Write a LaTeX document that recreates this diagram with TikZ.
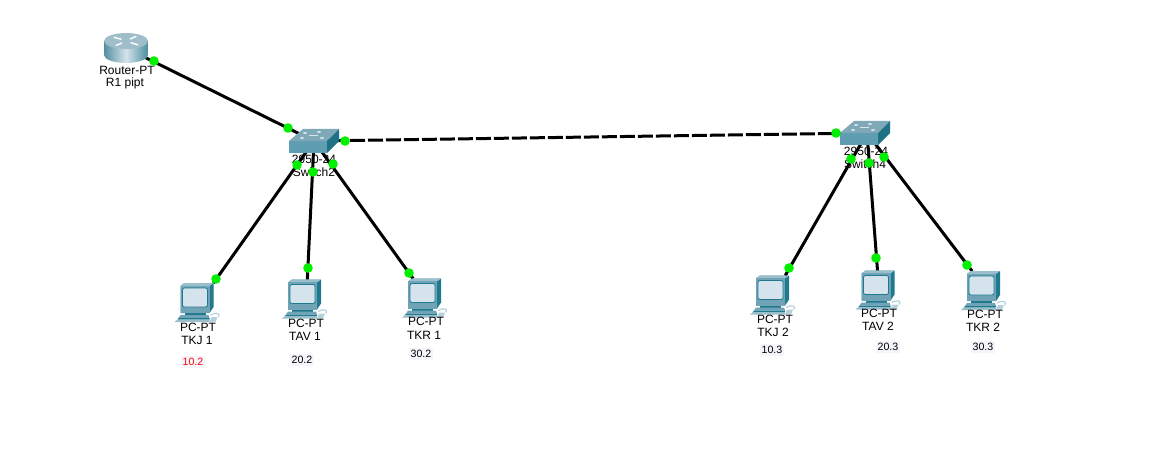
\documentclass[tikz,border=0pt]{standalone}
\usepackage{fontspec}
\setmainfont{Liberation Sans}
\definecolor{pcfront}{HTML}{6FA3B5}
\definecolor{pcside}{HTML}{1F7A90}
\definecolor{pcscreen}{HTML}{D5E4EC}
\definecolor{swfront}{HTML}{5F9DB3}
\definecolor{swtop}{HTML}{7FA9B8}
\definecolor{swside}{HTML}{1F7185}
\definecolor{linkgreen}{HTML}{00F000}
\definecolor{notebg}{HTML}{F5F5FC}
\tikzset{
	devbox/.style={minimum width=16.5pt, minimum height=18.5pt, inner sep=0pt},
	link/.style={line width=1.5pt, black},
	trunk/.style={link, dash pattern=on 7.5pt off 1.5pt},
	linkdot/.style={circle, fill=linkgreen, minimum size=4.8pt, inner sep=0pt},
	devtext/.style={font=\fontsize{6}{7}\selectfont, inner sep=0pt},
	iptext/.style={font=\fontsize{5.3}{6}\selectfont, inner sep=1pt, fill=notebg},
	pcicon/.pic={
		\fill[pcside](-16,-16)--(-12,-19)--(17,-19)--(17,5)--(13,11)--(-16,11)--cycle;
		\fill[pcfront](-16,-16)--(13,-16)--(13,11)--(-16,11)--cycle;
		\fill[pcfront!70!white](-16,-16)--(-12,-19)--(17,-19)--(13,-16)--cycle;
		\fill[pcscreen,draw=pcside,line width=.4pt,rounded corners=1pt](-14,-14)rectangle(11,5);
		\fill[pcside](-12,11)rectangle(9,13);
		\fill[pcfront](-16,13)--(12,13)--(13,16)--(-18,16)--cycle;
		\fill[pcside](-18,16)--(13,16)--(13,17.5)--(-19,17.5)--cycle;
		\fill[pcfront!70!white](-19,17.5)--(13,17.5)--(13,20)--(-22,20)--cycle;
		\draw[pcscreen!70!pcfront,line width=.6pt](14,13)..controls(20,10)and(24,11)..(22,15);
		\fill[pcfront!50!white](15,15)--(21,15)--(19,20)--(13,20)--cycle;
	},
	swicon/.pic={
		\fill[swfront](-25,0)rectangle(13,12);
		\fill[swtop](-25,0)--(-11,-12)--(25,-12)--(13,0)--cycle;
		\fill[swside](13,0)--(25,-12)--(25,0)--(13,12)--cycle;
		\foreach \p/\q in {-12/-3,-9/-8,5/-9,8/-3}\fill[white](\p,\q)ellipse(2 and .7);
		\draw[white!70!swtop,line width=.3pt](-5,-6)--(4,-6);
	},
	routericon/.pic={
		\shade[left color=swfront!90!black,right color=swside!80!white,middle color=pcscreen]
			(-22,-7)--(-22,7)arc(180:0:22 and 8)--(22,-7)--cycle;
		\fill[swtop!75!white](0,-7)ellipse(22 and 8);
		\foreach \r in {40,130,220,310}\draw[white,line width=.7pt](0,-7)++(\r:6 and 2.5)--++(\r:10 and 3.5);
	},
}
\begin{document}
\begin{tikzpicture}[x=.5pt,y=-.5pt,line join=round]
	\useasboundingbox(0,0)rectangle(1166,454);
	\foreach \n/\x/\y in {r1/126/48,sw2/314/141,sw4/867/133,tkja/196.5/302,tava/304/298.5,tkra/424/297.5,tkjb/772/294.5,tavb/877.5/289.5,tkrb/983/290}\node[devbox](\n)at(\x,\y){};
	\draw[link](r1.center)--(sw2.center);
	\draw[trunk](sw2.center)--(sw4.center);
	\draw[link](sw2.center)--(tkja.north east);
	\draw[link](sw2.center)--(tava.80);
	\draw[link](sw2.center)--(tkra.120);
	\draw[link](sw4.center)--(tkjb.55);
	\draw[link](sw4.center)--(tavb.north);
	\draw[link](sw4.center)--(tkrb.120);
	\pic at(r1){routericon};
	\pic at(sw2){swicon};
	\pic at([xshift=-1pt]sw4){swicon};
	\foreach \n in {tkja,tava,tkra,tkjb,tavb,tkrb}\pic at(\n){pcicon};
	\foreach \x/\y/\t in {127/70/Router-PT,125/83/R1 pipt,314/159/2950-24,314/172/Switch2,866/151/2950-24,865/164/Switch4,
		198/327/PC-PT,197/340/TKJ 1,306/323/PC-PT,305/336/TAV 1,426/321/PC-PT,424/335/TKR 1,
		775/319/PC-PT,773/332/TKJ 2,879/313/PC-PT,878/326/TAV 2,985/314/PC-PT,983/327/TKR 2}
		\node[devtext](lab\x)at(\x,\y){\t};
	\node[iptext,text=red](ipa)at(193,362){10.2};
	\foreach \x/\y/\t in {302/360/20.2,421/354/30.2,772/350/10.3,888/347/20.3,983/347/30.3}
		\node[iptext](ip\x)at(\x,\y){\t};
	\foreach \x/\y in {154/61,288/128,345/141,297/165,313/172,333/164,216/279,308/268,409/273,
		836/133,851/159,869/163,884/157,789/268,876/258,967/265}
		\node[linkdot](dot\x)at(\x,\y){};
\end{tikzpicture}
\end{document}
